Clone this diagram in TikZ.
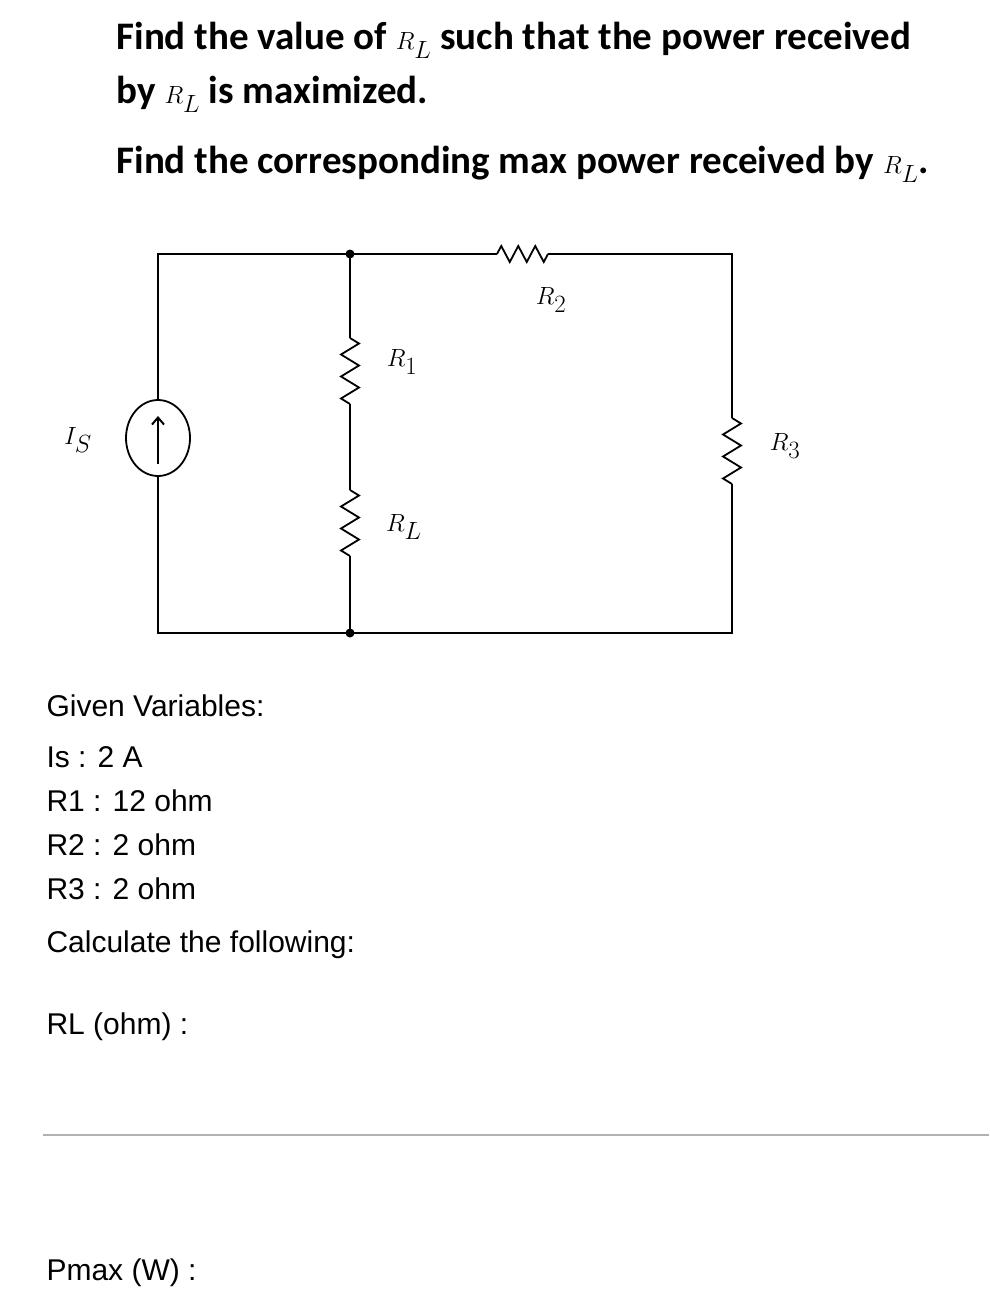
\documentclass[tikz,border=0pt]{standalone}
\usepackage{fontspec}
\setmainfont{Liberation Sans}
\newfontfamily\hdr{Carlito}
\usetikzlibrary{decorations.pathmorphing,shapes.geometric,arrows.meta}
\begin{document}
\begin{tikzpicture}[x=1pt,y=-1pt,
  wire/.style={line width=2.2pt},
  res/.style={line width=1.8pt,decorate,decoration={zigzag,segment length=22pt,amplitude=9pt}},
  htext/.style={anchor=base west,font=\hdr\bfseries\fontsize{39}{44}\selectfont},
  btext/.style={anchor=base west,font=\fontsize{30}{34}\selectfont},
  lbl/.style={font=\fontsize{40}{44}\selectfont}]
\useasboundingbox (0,0) rectangle (989,1308);
\node[htext] (h1) at (113,50) {Find the value of $R_L$ such that the power received};
\node[htext] (h2) at (113,104) {by $R_L$ is maximized.};
\node[htext] (h3) at (113,174) {Find the corresponding max power received by $R_L$.};
% nodes
\coordinate (tl) at (158,254); \coordinate (tm) at (350,254); \coordinate (tr) at (732,254);
\coordinate (bl) at (158,633); \coordinate (bm) at (350,633); \coordinate (br) at (732,633);
\node[draw,line width=1.8pt,ellipse,minimum width=64pt,minimum height=76pt,inner sep=0] (src) at (158,438) {};
\coordinate (r1a) at (350,338); \coordinate (r1b) at (350,404);
\coordinate (rla) at (350,490); \coordinate (rlb) at (350,556);
\coordinate (r2a) at (497,254); \coordinate (r2b) at (548,254);
\coordinate (r3a) at (732,418); \coordinate (r3b) at (732,484);
\draw[wire] (src.north) -- (tl) -- (r2a);
\draw[wire] (r2b) -- (tr) -- (r3a);
\draw[wire] (r3b) -- (br) -- (bl) -- (src.south);
\draw[wire] (tm) -- (r1a); \draw[wire] (r1b) -- (rla); \draw[wire] (rlb) -- (bm);
\draw[res] (r1a) -- (r1b);
\draw[res] (rla) -- (rlb);
\draw[res,decoration={zigzag,segment length=17pt,amplitude=8pt}] (r2a) -- (r2b);
\draw[res] (r3a) -- (r3b);
\fill (tm) circle (4.5pt); \fill (bm) circle (4.5pt);
\coordinate (aa) at (158,464); \coordinate (ab) at (158,416);
\draw[line width=2pt,-{Straight Barb[length=7pt,width=12pt,line width=2pt]}] (aa) -- (ab);
\node[lbl] (lis) at (78,440) {$I_S$};
\node[lbl] (lr1) at (402,362) {$R_1$};
\node[lbl] (lrl) at (404,527) {$R_L$};
\node[lbl] (lr2) at (551,300) {$R_2$};
\node[lbl] (lr3) at (785,446) {$R_3$};
% text
\node[btext] (t1) at (43,716) {Given Variables:};
\node[btext] (t2) at (43,767) {Is : 2 A};
\node[btext] (t3) at (43,811) {R1 : 12 ohm};
\node[btext] (t4) at (43,855) {R2 : 2 ohm};
\node[btext] (t5) at (43,899) {R3 : 2 ohm};
\node[btext] (t6) at (43,952) {Calculate the following:};
\node[btext] (t7) at (43,1034) {RL (ohm) :};
\coordinate (la) at (43,1135); \coordinate (lb) at (989,1135);
\draw[line width=1.2pt,gray!60] (la) -- (lb);
\node[btext] (t8) at (43,1280) {Pmax (W) :};
\end{tikzpicture}
\end{document}
